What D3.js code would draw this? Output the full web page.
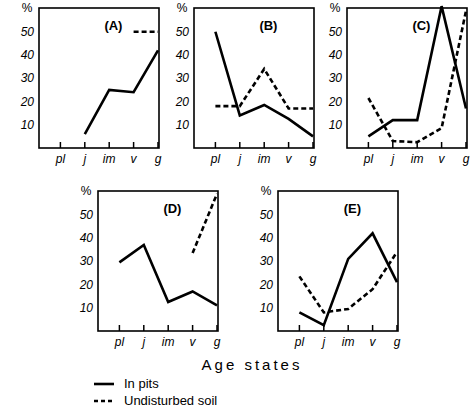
<!DOCTYPE html><html><head><meta charset="utf-8">
<script src="https://cdn.jsdelivr.net/npm/d3@7"></script>
<style>body{margin:0;background:#fff}text{font-family:Arial,"Liberation Sans",sans-serif}</style></head><body>
<svg id="c" width="474" height="410"></svg>
<script>
const categories=["pl","j","im","v","g"];
const yTicks=[10,20,30,40,50];
const panelNames=["(A)","(B)","(C)","(D)","(E)"];
const pitsA=[null,6,25,24,42], soilA=[null,null,null,50,50];
const pitsB=[50,14,18.5,12.5,5], soilB=[18,18,34,17,17];
const pitsC=[5,12,12,61,17], soilC=[21.5,3,2.5,8.5,59];
const pitsD=[29.5,37,12.5,17,11], soilD=[null,null,null,33.5,59];
const pitsE=[8,2.5,31,42,21], soilE=[23.5,8,9.5,18,34];
const pits=[pitsA,pitsB,pitsC,pitsD,pitsE], soil=[soilA,soilB,soilC,soilD,soilE];
const pos=[[39,8],[194,8],[347,8],[98,191],[278,191]];
const W=120,H=140;
const svg=d3.select("#c");
const x=d3.scalePoint().domain(["_",...categories]).range([-3,W-1]);
const y=d3.scaleLinear().domain([0,60]).range([H,H-139.5]);
pos.forEach(([px,py],i)=>{
  const g=svg.append("g").attr("transform",`translate(${px},${py})`);
  g.append("rect").attr("width",W).attr("height",H).attr("fill","none").attr("stroke","#000").attr("stroke-width",1.6);
  categories.forEach(c=>{
    g.append("line").attr("x1",x(c)).attr("x2",x(c)).attr("y1",H).attr("y2",H-6).attr("stroke","#000").attr("stroke-width",1.5);
    g.append("text").attr("x",x(c)).attr("y",H+15).attr("text-anchor","middle").attr("font-size",12).attr("font-style","italic").text(c);
  });
  yTicks.forEach(t=>g.append("text").attr("x",-5).attr("y",y(t)+4).attr("text-anchor","end").attr("font-size",12).attr("font-style","italic").text(t));
  g.append("text").attr("x",-12).attr("y",4).attr("text-anchor","middle").attr("font-size",12).text("%");
  g.append("text").attr("x",W*0.62).attr("y",22).attr("text-anchor","middle").attr("font-size",13).attr("font-weight","bold").text(panelNames[i]);
  const line=d3.line().defined(d=>d!=null).x((d,k)=>x(categories[k])).y(d=>y(d));
  g.append("path").attr("d",line(soil[i])).attr("fill","none").attr("stroke","#000").attr("stroke-width",2.6).attr("stroke-dasharray","5,3");
  g.append("path").attr("d",line(pits[i])).attr("fill","none").attr("stroke","#000").attr("stroke-width",2.6);
});
svg.append("text").attr("x",252).attr("y",370).attr("text-anchor","middle").attr("font-size",15).attr("letter-spacing",3).text("Age states");
svg.append("line").attr("x1",94).attr("x2",114).attr("y1",384).attr("y2",384).attr("stroke","#000").attr("stroke-width",2.6);
svg.append("line").attr("x1",94).attr("x2",114).attr("y1",401).attr("y2",401).attr("stroke","#000").attr("stroke-width",2.6).attr("stroke-dasharray","4,3");
svg.append("text").attr("x",124).attr("y",388).attr("font-size",13).text("In pits");
svg.append("text").attr("x",124).attr("y",405).attr("font-size",13).text("Undisturbed soil");
</script></body></html>
